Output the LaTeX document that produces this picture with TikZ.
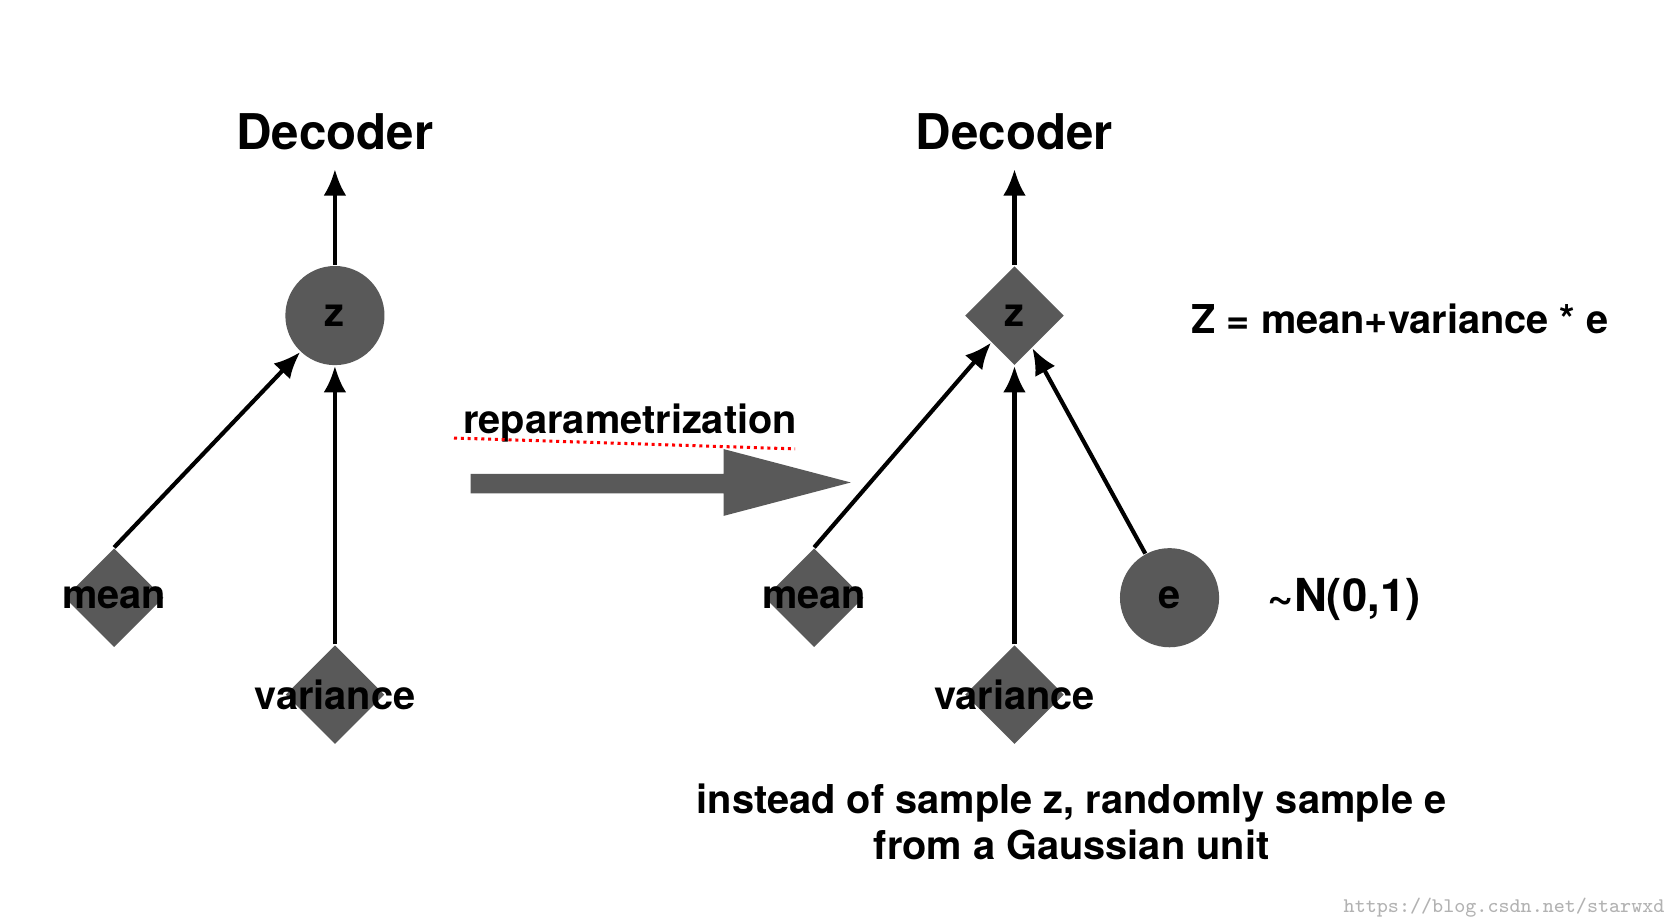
\documentclass[tikz,border=0pt]{standalone}
\usepackage{fontspec}
\setmainfont{TeX Gyre Heros}
\usetikzlibrary{shapes.geometric,arrows.meta}
\definecolor{nodegray}{HTML}{595959}
\begin{document}
\begin{tikzpicture}[x=0.01cm,y=-0.01cm,>={Latex[length=7pt,width=6pt]},
		every node/.style={font=\bfseries},
		link/.style={->,line width=1.1pt},
		myball/.style={circle,fill=nodegray,minimum size=0.92cm,inner sep=0pt},
		mydiam/.style={diamond,fill=nodegray,minimum size=0.92cm,inner sep=0pt},
		txt/.style={font=\fontsize{10.5}{12}\selectfont\bfseries}]
		\useasboundingbox (0,0) rectangle (1560,856);
		
		% left: sampling z directly
		\node[font=\fontsize{13}{15}\selectfont\bfseries] (decl) at (311,122) {Decoder};
		\node[myball,txt] (zl) at (311,293) {z};
		\node[mydiam,label={[txt]center:mean}] (meanl) at (106,555) {};
		\node[mydiam,label={[txt]center:variance}] (varl) at (311,645) {};
		\draw[link] (zl) -- (decl.south |- 0,157);
		\draw[link] (meanl.north) -- (zl);
		\draw[link] (varl.north) -- (varl.north |- zl.south);
		
		% the big arrow
		\node[txt] (rep) at (585,393) {reparametrization};
		\draw[red,densely dotted,line width=0.8pt] (rep.base west) ++(4,4) -- ([xshift=-4pt,yshift=-4pt]rep.base east);
		\fill[nodegray] (437,440) -- (672,440) -- (672,417) -- (790,448) -- (672,479) -- (672,458) -- (437,458) -- cycle;
		
		% right: sampling e instead
		\node[font=\fontsize{13}{15}\selectfont\bfseries] (decr) at (942,122) {Decoder};
		\node[mydiam,txt] (zr) at (942,293) {z};
		\node[mydiam,label={[txt]center:mean}] (meanr) at (756,555) {};
		\node[mydiam,label={[txt]center:variance}] (varr) at (942,645) {};
		\node[myball,txt] (e) at (1086,555) {e};
		\draw[link] (zr.north) -- (decr.south |- 0,157);
		\draw[link] (meanr.north) -- (zr);
		\draw[link] (varr.north) -- (zr.south);
		\draw[link] (e) -- (zr);
		\node[txt] (formula) at (1300,296) {Z = mean+variance * e};
		\node[txt,font=\fontsize{12}{14}\selectfont\bfseries] (dist) at (1248,557) {\textasciitilde N(0,1)};
		\node[txt,align=center] (note) at (995,763) {instead of sample z, randomly sample e\\from a Gaussian unit};
		
		\node[anchor=east,font=\fontsize{5.5}{6}\ttfamily,text=black!30] (mark) at (1558,843) {https://blog.csdn.net/starwxd};
\end{tikzpicture}
\end{document}
